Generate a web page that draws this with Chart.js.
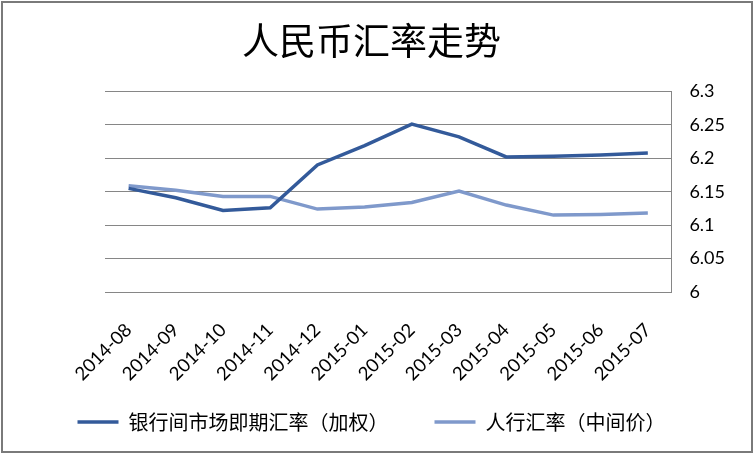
<!DOCTYPE html>
<html><head><meta charset="utf-8">
<script src="https://cdn.jsdelivr.net/npm/chart.js@4/dist/chart.umd.min.js"></script>
<style>html,body{margin:0;padding:0;background:#fff}#w{width:755px;height:455px}</style>
</head><body><div id="w"><canvas id="c" width="755" height="455"></canvas></div>
<script>
const categories = ["2014-08","2014-09","2014-10","2014-11","2014-12","2015-01","2015-02","2015-03","2015-04","2015-05","2015-06","2015-07"];
const interbankRate = [6.155,6.141,6.122,6.126,6.190,6.219,6.251,6.232,6.202,6.203,6.205,6.208];
const pbocMidRate = [6.159,6.152,6.143,6.143,6.124,6.127,6.134,6.151,6.130,6.115,6.116,6.118];
const seriesNames = ["银行间市场即期汇率（加权）","人行汇率（中间价）"];
const titleText = "人民币汇率走势";
const yTicks = [6,6.05,6.1,6.15,6.2,6.25,6.3];

const frame = {id:'frame',afterDraw(ch){const x=ch.ctx;x.save();x.strokeStyle='#7a7a7a';x.lineWidth=2;x.strokeRect(2,2,750,450);x.restore();}};
const bg = {id:'bg',beforeDraw(ch){const x=ch.ctx;x.save();x.fillStyle='#fff';x.fillRect(0,0,ch.width,ch.height);x.restore();}};

new Chart(document.getElementById('c'),{
  type:'line',
  data:{labels:categories,datasets:[
    {label:seriesNames[0],data:interbankRate,borderColor:'#335A9A',backgroundColor:'#335A9A',borderWidth:3.5,pointRadius:0,tension:0,yAxisID:'y'},
    {label:seriesNames[1],data:pbocMidRate,borderColor:'#7F99CB',backgroundColor:'#7F99CB',borderWidth:3.5,pointRadius:0,tension:0,yAxisID:'y'}
  ]},
  plugins:[bg,frame],
  options:{
    responsive:false,animation:false,
    layout:{padding:{left:0,right:12,top:0,bottom:13}},
    plugins:{
      title:{display:true,text:titleText,color:'#000',font:{family:"'Noto Sans CJK SC'",size:37,weight:'normal'},padding:{top:19,bottom:28}},
      legend:{position:'bottom',labels:{usePointStyle:true,pointStyle:'line',pointStyleWidth:41,color:'#000',font:{family:"'Noto Sans CJK SC'",size:20},padding:46}},
      tooltip:{enabled:false}
    },
    scales:{
      x:{offset:true,grid:{display:false,drawTicks:false},border:{color:'#868686',width:1},
         afterFit(s){s.height=74;s._computeLabelArea=()=>undefined;},
         ticks:{color:'#000',minRotation:45,maxRotation:45,autoSkip:false,padding:27,font:{family:"Lato",size:18.5}}},
      yl:{position:'left',display:true,grid:{display:false,drawTicks:false},border:{display:false},ticks:{display:false},afterFit(s){s.width=105;}},
      y:{position:'right',min:6,max:6.3,grid:{color:'#868686',drawTicks:false},border:{color:'#868686',width:1},
         afterBuildTicks(s){s.ticks=yTicks.map(v=>({value:v}));},
         ticks:{autoSkip:false,padding:18,color:'#000',font:{family:"Lato",size:18},callback:v=>String(Math.round(v*100)/100)}}
    }
  }
});
</script></body></html>
